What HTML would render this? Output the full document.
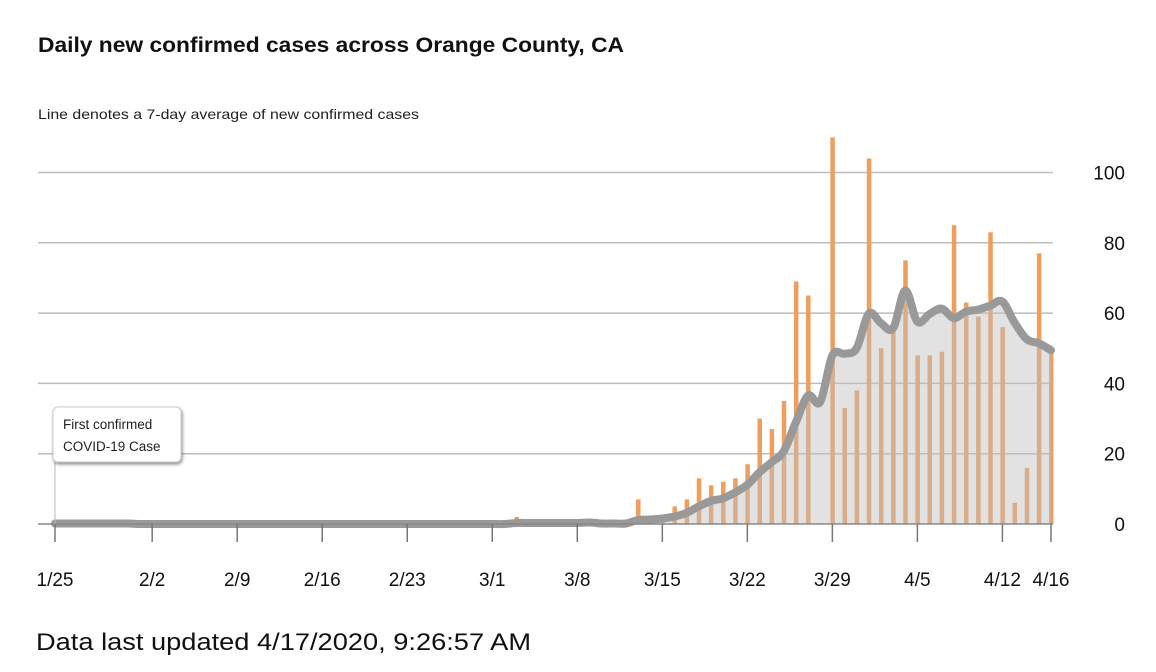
<!DOCTYPE html>
<html><head><meta charset="utf-8"><style>
html,body{margin:0;padding:0;background:#fff;width:1156px;height:672px;overflow:hidden}
svg{display:block;font-family:"Liberation Sans",sans-serif}
</style></head><body>
<svg id="chart" width="1156" height="672" viewBox="0 0 1156 672" xmlns="http://www.w3.org/2000/svg">
<defs><filter id="sh" x="-20%" y="-20%" width="140%" height="150%"><feDropShadow dx="1" dy="2" stdDeviation="1.5" flood-color="#000" flood-opacity="0.45"/></filter></defs>
<text x="38" y="52" font-size="21" font-weight="bold" fill="#111" textLength="586" lengthAdjust="spacingAndGlyphs">Daily new confirmed cases across Orange County, CA</text>
<text x="38" y="119" font-size="14" fill="#222" textLength="381" lengthAdjust="spacingAndGlyphs">Line denotes a 7-day average of new confirmed cases</text>
<g id="grid"></g>
<g id="bars"></g>
<g id="line"></g>
<g id="xaxis"></g>
<g id="yaxis"></g>
<g>
<line x1="55" y1="462" x2="55" y2="524" stroke="#bbb" stroke-width="1"/>
<rect x="53" y="407" width="128" height="55" rx="5" fill="#fff" stroke="#ccc" filter="url(#sh)"/>
<text x="63" y="429" font-size="13.5" fill="#222">First confirmed</text>
<text x="63" y="451" font-size="13.5" fill="#222">COVID-19 Case</text>
</g>
<text x="36" y="650" font-size="24" fill="#111" textLength="495" lengthAdjust="spacingAndGlyphs">Data last updated 4/17/2020, 9:26:57 AM</text>
</svg>
<script>
// day index 0 = 1/25 ... 82 = 4/16
const nonZeroDays = [0,38,44,48,49,50,51,52,53,54,55,56,57,58,59,60,61,62,63,64,65,66,67,68,69,70,71,72,73,74,75,76,77,78,79,80,81,82];
const nonZeroCases = [1,2,1,7,1,2,5,7,13,11,12,13,17,30,27,35,69,65,0,110,33,38,104,50,55,75,48,48,49,85,63,59,83,56,6,16,77,49];
const xTickLabels = ["1/25","2/2","2/9","2/16","2/23","3/1","3/8","3/15","3/22","3/29","4/5","4/12","4/16"];
const xTickDays = [0,8,15,22,29,36,43,50,57,64,71,78,82];
const yTicks = [0,20,40,60,80,100];

const NS="http://www.w3.org/2000/svg";
const N=83;
const cases=new Array(N).fill(0);
nonZeroDays.forEach((d,i)=>{cases[d]=nonZeroCases[i];});
const avg=cases.map((v,i)=>{let s=0;for(let j=Math.max(0,i-6);j<=i;j++){s+=cases[j];}return s/7;});
const x=d=>55+d*(996/82);
const y=v=>524-v*3.515;
function mk(tag,attrs,parent){const e=document.createElementNS(NS,tag);for(const k in attrs)e.setAttribute(k,attrs[k]);parent.appendChild(e);return e;}
const grid=document.getElementById('grid'),bars=document.getElementById('bars'),line=document.getElementById('line'),xa=document.getElementById('xaxis'),ya=document.getElementById('yaxis');
yTicks.forEach(t=>{
  if(t>0){const g=mk('line',{x1:38,x2:1053,y1:y(t),y2:y(t),stroke:'#bdbdbd','stroke-width':1.5},grid);
  
  }
  const lb=mk('text',{x:1125,y:y(t)+7,'font-size':19,fill:'#111','text-anchor':'end'},ya);
  lb.textContent=t;
  
  
});
cases.forEach((v,i)=>{if(v<=0)return;
  const r=mk('rect',{x:x(i)-2,y:y(v),width:4.5,height:524-y(v),fill:'#ef9e5e'},bars);
  
  
});
const pts=avg.map((v,i)=>[x(i),y(v)]);
let d='M'+pts[0][0]+','+pts[0][1];
for(let i=0;i<pts.length-1;i++){const p0=pts[Math.max(0,i-1)],p1=pts[i],p2=pts[i+1],p3=pts[Math.min(pts.length-1,i+2)];
  const c1=[p1[0]+(p2[0]-p0[0])/6,p1[1]+(p2[1]-p0[1])/6],c2=[p2[0]-(p3[0]-p1[0])/6,p2[1]-(p3[1]-p1[1])/6];
  d+=' C'+c1[0]+','+c1[1]+' '+c2[0]+','+c2[1]+' '+p2[0]+','+p2[1];}
const area=mk('path',{d:d+' L'+x(N-1)+',524 L'+x(0)+',524 Z',fill:'#bfbfbf','fill-opacity':0.45},line);


const lp=mk('path',{d:d,fill:'none',stroke:'#999','stroke-width':8,'stroke-linejoin':'round','stroke-linecap':'round'},line);


const base=mk('line',{x1:38,x2:1053,y1:524,y2:524,stroke:'#888','stroke-width':1.5},xa);


xTickDays.forEach((dd,i)=>{
  const tk=mk('line',{x1:x(dd),x2:x(dd),y1:524,y2:542,stroke:'#777','stroke-width':1.5},xa);
  
  
  const lb=mk('text',{x:x(dd),y:586,'font-size':19,fill:'#111','text-anchor':'middle'},xa);
  lb.textContent=xTickLabels[i];
  
  
});
</script>
</body></html>
